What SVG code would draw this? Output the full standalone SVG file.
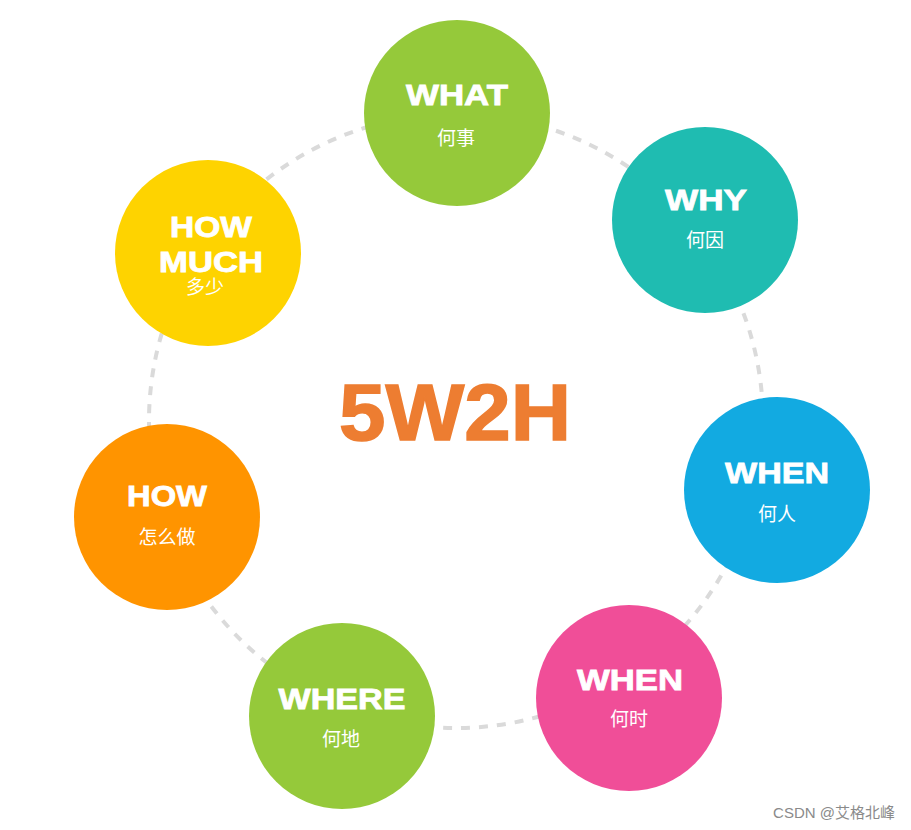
<svg xmlns="http://www.w3.org/2000/svg" width="911" height="830" viewBox="0 0 911 830">
<style>
.ring{fill:none;stroke:#dadada;stroke-width:4;stroke-dasharray:9 9}
.en{font-family:"Liberation Sans",Arial,sans-serif;font-weight:bold;fill:#fff;text-anchor:middle;stroke:#fff;stroke-width:0.8}
.zh{font-family:"Liberation Sans","Noto Sans CJK SC",sans-serif;font-size:19px;fill:#fff;text-anchor:middle}
.title{font-family:"Liberation Sans",Arial,sans-serif;font-weight:bold;font-size:80px;fill:#ED7D31;stroke:#ED7D31;stroke-width:1.5;text-anchor:middle}
.wm{font-family:"Liberation Sans","Noto Sans CJK SC",sans-serif;font-size:15px;fill:#8a8a8a;text-anchor:end}
</style>
<rect width="911" height="830" fill="#fff"/>
<g id="connectors">
<circle class="ring" cx="456" cy="421" r="307"/>
</g>
<g id="what">
<circle cx="457" cy="113" r="93" fill="#95C93A"/>
<text class="en" x="457" y="105" font-size="29" textLength="102" lengthAdjust="spacingAndGlyphs">WHAT</text>
<text class="zh" x="456" y="145">何事</text>
</g>
<g id="why">
<circle cx="705" cy="220" r="93" fill="#1FBCB1"/>
<text class="en" x="706" y="210" font-size="29" textLength="82" lengthAdjust="spacingAndGlyphs">WHY</text>
<text class="zh" x="705" y="247">何因</text>
</g>
<g id="when1">
<circle cx="777" cy="490" r="93" fill="#12AAE1"/>
<text class="en" x="777" y="483" font-size="29" textLength="104" lengthAdjust="spacingAndGlyphs">WHEN</text>
<text class="zh" x="777" y="521">何人</text>
</g>
<g id="when2">
<circle cx="629" cy="698" r="93" fill="#F04E98"/>
<text class="en" x="630" y="690" font-size="29" textLength="106" lengthAdjust="spacingAndGlyphs">WHEN</text>
<text class="zh" x="629" y="726">何时</text>
</g>
<g id="where">
<circle cx="342" cy="716" r="93" fill="#95C93A"/>
<text class="en" x="342" y="709" font-size="29" textLength="127" lengthAdjust="spacingAndGlyphs">WHERE</text>
<text class="zh" x="341" y="746">何地</text>
</g>
<g id="how">
<circle cx="167" cy="517" r="93" fill="#FF9400"/>
<text class="en" x="167" y="506" font-size="29" textLength="80" lengthAdjust="spacingAndGlyphs">HOW</text>
<text class="zh" x="167" y="544">怎么做</text>
</g>
<g id="howmuch">
<circle cx="208" cy="253" r="93" fill="#FED300"/>
<text class="en" x="211" y="237" font-size="29" textLength="82" lengthAdjust="spacingAndGlyphs">HOW</text>
<text class="en" x="211" y="272" font-size="29" textLength="104" lengthAdjust="spacingAndGlyphs">MUCH</text>
<text class="zh" x="205" y="294" font-size="18">多少</text>
</g>
<g id="title">
<text class="title" x="455" y="440" textLength="232" lengthAdjust="spacingAndGlyphs">5W2H</text>
</g>
<text class="wm" x="895" y="818">CSDN @艾格北峰</text>
</svg>
